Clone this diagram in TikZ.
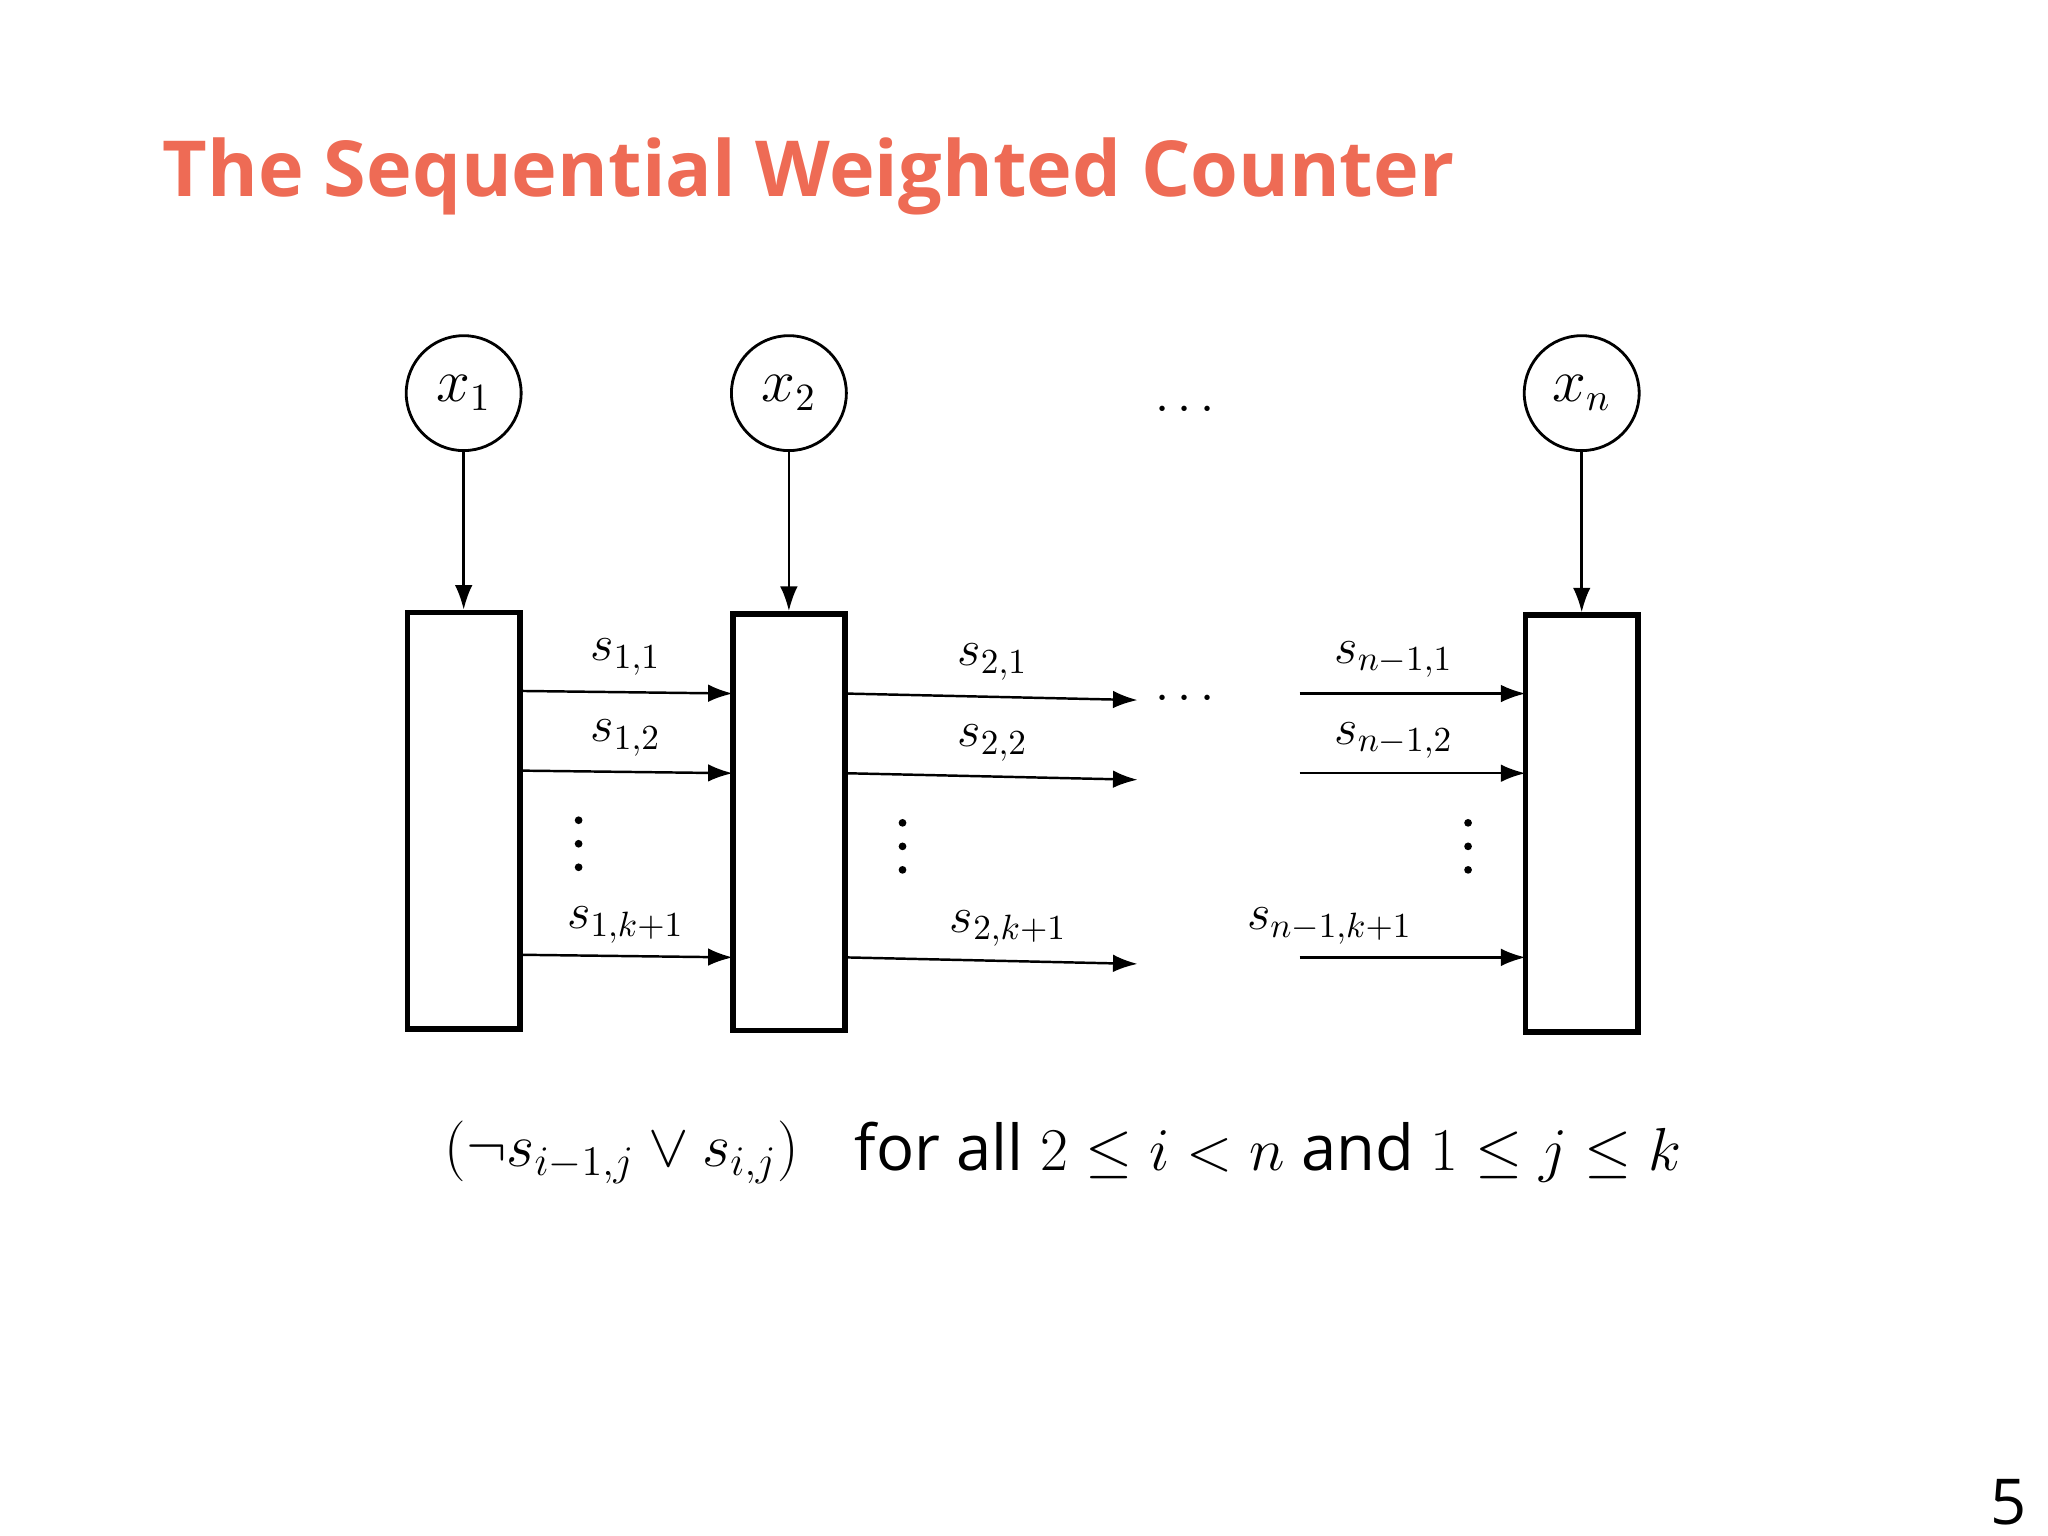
\documentclass[tikz,border=0pt]{standalone}
\usepackage{fontspec}
\setmainfont{Open Sans}
\usetikzlibrary{arrows.meta}
\definecolor{titlec}{HTML}{EE6B55}
\tikzset{
 inp/.style={draw,circle,minimum size=88*0.01306cm,inner sep=0pt,line width=0.8pt,font=\fontsize{16}{18}\selectfont},
 blk/.style={draw,line width=1.6pt,minimum width=86*0.01306cm,minimum height=319*0.01306cm,inner sep=0pt},
 arr/.style={-{Latex[length=7pt,width=5pt]},line width=0.7pt},
 lab/.style={font=\fontsize{14}{16}\selectfont},
 vd/.style={circle,fill,inner sep=0pt,minimum size=2.2pt}
}
\begin{document}
\begin{tikzpicture}[x=0.01306cm,y=-0.01306cm]
\useasboundingbox (0,0) rectangle (1568,1176);
\node[anchor=west,text=titlec,font=\fontsize{22}{26}\selectfont\bfseries] (title) at (115,135) {The Sequential Weighted Counter};
\node[inp] (x1) at (355,301) {$x_1$};
\node[inp] (x2) at (604,301) {$x_2$};
\node[inp] (xn) at (1211,301) {$x_n$};
\node[lab] (hd) at (907,314) {$\cdots$};
\node[blk] (b1) at (355,628.5) {};
\node[blk] (b2) at (604,629.5) {};
\node[blk] (bn) at (1211,630.5) {};
\draw[arr] (x1) -- (b1.north);
\draw[arr] (x2) -- (b2.north);
\draw[arr] (xn) -- (bn.north);
% box1 -> box2
\coordinate (a1s) at (398,529); \coordinate (a1e) at (561,531);
\coordinate (a2s) at (398,590); \coordinate (a2e) at (561,592);
\coordinate (a3s) at (398,731); \coordinate (a3e) at (561,733);
\draw[arr] (a1s) -- (a1e); \draw[arr] (a2s) -- (a2e); \draw[arr] (a3s) -- (a3e);
\node[lab] (l11) at (479,503) {$s_{1,1}$};
\node[lab] (l12) at (479,565) {$s_{1,2}$};
\node[lab] (l1k) at (479,708) {$s_{1,k+1}$};
\foreach \yy [count=\k] in {628,646,664} {\node[vd] (va\k) at (443,\yy) {}; \node[vd] (vb\k) at (691,\yy+2) {}; \node[vd] (vc\k) at (1124,\yy+2) {};}
% box2 -> dots
\coordinate (c1s) at (647,531); \coordinate (c1e) at (871,536);
\coordinate (c2s) at (647,592); \coordinate (c2e) at (871,597);
\coordinate (c3s) at (647,733); \coordinate (c3e) at (871,738);
\draw[arr] (c1s) -- (c1e); \draw[arr] (c2s) -- (c2e); \draw[arr] (c3s) -- (c3e);
\node[lab] (l21) at (760,507) {$s_{2,1}$};
\node[lab] (l22) at (760,569) {$s_{2,2}$};
\node[lab] (l2k) at (772,711) {$s_{2,k+1}$};
\node[lab] (md) at (907,535) {$\cdots$};
% -> box n
\coordinate (d1s) at (995,531); \coordinate (d1e) at (1168,531);
\coordinate (d2s) at (995,592); \coordinate (d2e) at (1168,592);
\coordinate (d3s) at (995,733); \coordinate (d3e) at (1168,733);
\draw[arr] (d1s) -- (d1e); \draw[arr] (d2s) -- (d2e); \draw[arr] (d3s) -- (d3e);
\node[lab] (ln1) at (1067,505) {$s_{n-1,1}$};
\node[lab] (ln2) at (1067,567) {$s_{n-1,2}$};
\node[lab] (lnk) at (1018,709) {$s_{n-1,k+1}$};
% formula
\node[font=\fontsize{18}{22}\selectfont] (f1) at (476,882) {$(\neg s_{i-1,j}\vee s_{i,j})$};
\node[anchor=west,font=\fontsize{18}{22}\selectfont] (f2) at (645,882) {for all $2\le i<n$ and $1\le j\le k$};
\node[font=\fontsize{18}{22}\selectfont] (pg) at (1538,1150) {5};
\end{tikzpicture}
\end{document}
